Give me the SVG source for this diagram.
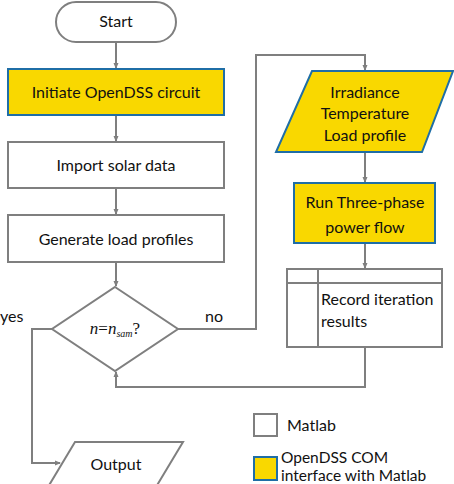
<svg xmlns="http://www.w3.org/2000/svg" width="454" height="484" viewBox="0 0 454 484">
<style>
.m{fill:#fff;stroke:#7f7f7f;stroke-width:2}
.o{fill:#f9d800;stroke:#1f6ea6;stroke-width:2}
.t{font-family:Lato,"Liberation Sans",sans-serif;font-size:16px;fill:#111;text-anchor:middle}
.l{font-family:Lato,"Liberation Sans",sans-serif;font-size:16px;fill:#111}
.s{font-family:Lato,"Liberation Sans",sans-serif;font-size:15.5px;fill:#111}
.c{fill:none;stroke:#7f7f7f;stroke-width:2}
</style>
<defs>
<marker id="a" markerWidth="6" markerHeight="6" refX="5" refY="3" orient="auto" markerUnits="userSpaceOnUse">
<path d="M0,0.5 L6,3 L0,5.5 z" fill="#7f7f7f"/>
</marker>
</defs>
<rect width="454" height="484" fill="#fff"/>
<g id="connectors">
<path class="c" d="M116,42 V68" marker-end="url(#a)"/>
<path class="c" d="M116,115 V141" marker-end="url(#a)"/>
<path class="c" d="M116,188 V214" marker-end="url(#a)"/>
<path class="c" d="M116,262 V286" marker-end="url(#a)"/>
<path class="c" d="M178,329 H256 V55 H365 V70" marker-end="url(#a)"/>
<path class="c" d="M365,152 V182" marker-end="url(#a)"/>
<path class="c" d="M365,243 V268" marker-end="url(#a)"/>
<path class="c" d="M365,347 V387 H116 V372" marker-end="url(#a)"/>
<path class="c" d="M52,329 H32 V463 H60" marker-end="url(#a)"/>
</g>
<g id="start"><rect class="m" x="56" y="2" width="120" height="40" rx="20"/><text class="t" x="116" y="27">Start</text></g>
<g id="initiate"><rect class="o" x="8" y="69" width="216" height="46"/><text class="t" x="116" y="98">Initiate OpenDSS circuit</text></g>
<g id="import"><rect class="m" x="8" y="142" width="216" height="46"/><text class="t" x="116" y="171">Import solar data</text></g>
<g id="generate"><rect class="m" x="8" y="215" width="216" height="47"/><text class="t" x="116" y="245">Generate load profiles</text></g>
<g id="decision"><path class="m" d="M115,287 L178,329 L115,371 L52,329 Z"/>
<text x="115" y="334" text-anchor="middle" font-family="'Liberation Serif',serif" font-size="17" fill="#111"><tspan font-style="italic">n</tspan>=<tspan font-style="italic">n</tspan><tspan font-style="italic" font-size="10" dy="3">sam</tspan><tspan dy="-3">?</tspan></text></g>
<text class="l" x="0" y="322">yes</text>
<text class="l" x="205" y="322">no</text>
<g id="output"><path class="m" d="M75,442 H183 L156,487 H48 Z"/><text class="t" x="116" y="470">Output</text></g>
<g id="inputs"><path class="o" d="M312,71 H453 L422,152 H276 Z"/>
<text class="t" x="365" y="98">Irradiance</text><text class="t" x="365" y="119">Temperature</text><text class="t" x="365" y="141">Load profile</text></g>
<g id="run"><rect class="o" x="294" y="183" width="141" height="60"/><text class="t" x="365" y="208">Run Three-phase</text><text class="t" x="365" y="233">power flow</text></g>
<g id="record"><rect class="m" x="287" y="269" width="155" height="78"/><path class="c" d="M287,283 H442 M318,269 V347"/>
<text class="l" x="321" y="305">Record iteration</text><text class="l" x="321" y="327">results</text></g>
<g id="legend">
<rect class="m" x="254" y="414" width="23" height="22"/><text class="l" x="287" y="431">Matlab</text>
<rect class="o" x="254" y="457" width="23" height="23"/><text class="s" x="281" y="463">OpenDSS COM</text><text class="s" x="281" y="481">interface with Matlab</text>
</g>
</svg>
